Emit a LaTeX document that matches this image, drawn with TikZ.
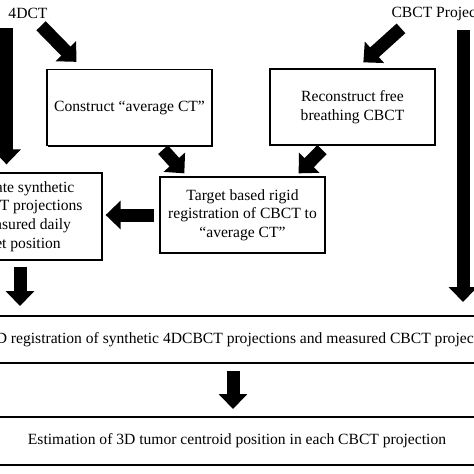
\documentclass[tikz,border=0pt]{standalone}
\usepackage{fontspec}
\setmainfont{Liberation Serif}
\usetikzlibrary{arrows.meta,calc,shadows}

\begin{document}
\begin{tikzpicture}[
  x=1pt, y=-1pt,
  every node/.style = {align=center, font=\fontsize{15.6}{18.6}\selectfont},
  box/.style = {draw, fill=white, line width=1.3pt, minimum width=165pt, minimum height=76pt, inner sep=0pt,
    drop shadow={shadow xshift=1pt, shadow yshift=-1.2pt, fill=black, opacity=1}},
  band/.style = {draw, line width=2pt, minimum width=560pt, inner sep=0pt},
  fat/.style = {line width=13pt, -{Triangle[width=28pt,length=15pt]}}
]
  \useasboundingbox (0,0) rectangle (474,474);
  \clip (0,0) rectangle (474,474);
  \node (ct) at (28,13) {4DCT};
  \node[anchor=west] (proj) at (388,14) {CBCT Projections};
  \node[box] (construct) at (129.5,107.5) {Construct “average CT”};
  \node[box] (recon) at (352.5,107) {Reconstruct free\\breathing CBCT};
  \node[box] (target) at (242.5,215) {Target based rigid\\registration of CBCT to\\“average CT”};
  \node[box, minimum width=172pt, minimum height=87pt] (synth) at (16,216.5)
    {Generate synthetic\\4DCBCT projections\\at measured daily\\target position};
  \node[band, minimum height=47pt] (reg) at (246,339.5)
    {2D registration of synthetic 4DCBCT projections and measured CBCT projections};
  \node[band, minimum height=48pt] (est) at (237,441)
    {Estimation of 3D tumor centroid position in each CBCT projection};
  \coordinate (ctdown) at (6.5,28);
  \coordinate (projdown) at (463,30);
  \draw[fat, shorten >=8pt] (ctdown) -- (ctdown |- synth.north);
  \draw[fat, shorten >=13pt] (projdown) -- (projdown |- reg.north);
  \draw[fat] ([shift={(-10,4)}]ct.south east) -- ([shift={(30,-7)}]construct.north west);
  \draw[fat] ([shift={(13,4)}]proj.south west) -- ([shift={(94,-6)}]recon.north west);
  \draw[fat] ([shift={(33.5,3.5)}]construct.south) -- ([shift={(25,-3)}]target.north west);
  \draw[fat] ([shift={(-30.5,4)}]recon.south) -- ([shift={(-27,-3)}]target.north east);
  \draw[fat, shorten <=5pt, shorten >=3pt] (target.west) -- (target.west -| synth.east);
  \draw[fat, shorten <=6pt, shorten >=9pt] (20,0 |- synth.south) -- (20,0 |- reg.north);
  \draw[fat, shorten <=7pt, shorten >=7pt] (233,0 |- reg.south) -- (233,0 |- est.north);
\end{tikzpicture}
\end{document}
